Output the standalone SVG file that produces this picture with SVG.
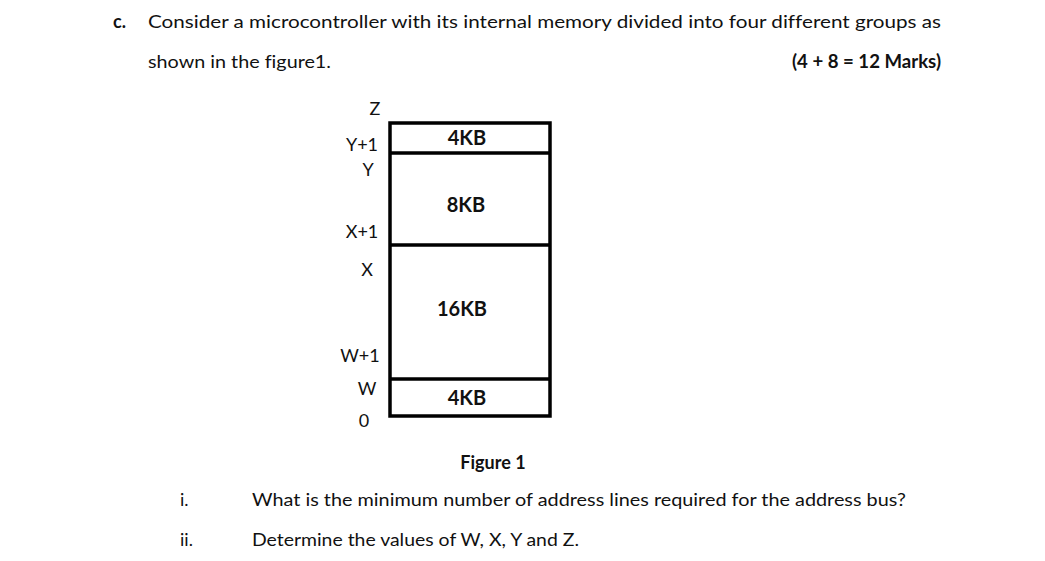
<svg xmlns="http://www.w3.org/2000/svg" width="1045" height="561" viewBox="0 0 1045 561">
<style>
text{font-family:Lato,"Open Sans","Liberation Sans",sans-serif;font-size:18px;fill:#111;font-variant-ligatures:none}
.b{font-weight:bold}
.lab{font-size:18px;text-anchor:middle}
.kb{font-size:20px;font-weight:bold;text-anchor:middle}
.box{fill:#fff;stroke:#000;stroke-width:3.5}
.sep{stroke:#000;stroke-width:3.5}
</style>
<rect width="1045" height="561" fill="#fff"/>
<g id="question">
<text class="b" x="113" y="28">c.</text>
<text x="148" y="28" textLength="793" lengthAdjust="spacingAndGlyphs">Consider a microcontroller with its internal memory divided into four different groups as</text>
<text x="148" y="68" textLength="183" lengthAdjust="spacingAndGlyphs">shown in the figure1.</text>
<text class="b" x="792" y="68" textLength="149" lengthAdjust="spacingAndGlyphs">(4 + 8 = 12 Marks)</text>
</g>
<g id="memory">
<rect class="box" x="390" y="123" width="160" height="293"/>
<line class="sep" x1="390" y1="153" x2="550" y2="153"/>
<line class="sep" x1="390" y1="245" x2="550" y2="245"/>
<line class="sep" x1="390" y1="379" x2="550" y2="379"/>
<text class="kb" x="467" y="145">4KB</text>
<text class="kb" x="466" y="212">8KB</text>
<text class="kb" x="462" y="316">16KB</text>
<text class="kb" x="467" y="405">4KB</text>
</g>
<g id="addresses">
<text class="lab" x="375" y="115">Z</text>
<text class="lab" x="362" y="151">Y+1</text>
<text class="lab" x="368" y="176">Y</text>
<text class="lab" x="362" y="238">X+1</text>
<text class="lab" x="367" y="276">X</text>
<text class="lab" x="360" y="362">W+1</text>
<text class="lab" x="367" y="395">W</text>
<text class="lab" x="364" y="427">0</text>
</g>
<g id="caption">
<text class="b" x="493" y="469" text-anchor="middle">Figure 1</text>
</g>
<g id="parts">
<text x="180" y="506">i.</text>
<text x="252" y="506" textLength="654" lengthAdjust="spacingAndGlyphs">What is the minimum number of address lines required for the address bus?</text>
<text x="180" y="546">ii.</text>
<text x="252" y="546" textLength="327" lengthAdjust="spacingAndGlyphs">Determine the values of W, X, Y and Z.</text>
</g>
</svg>
